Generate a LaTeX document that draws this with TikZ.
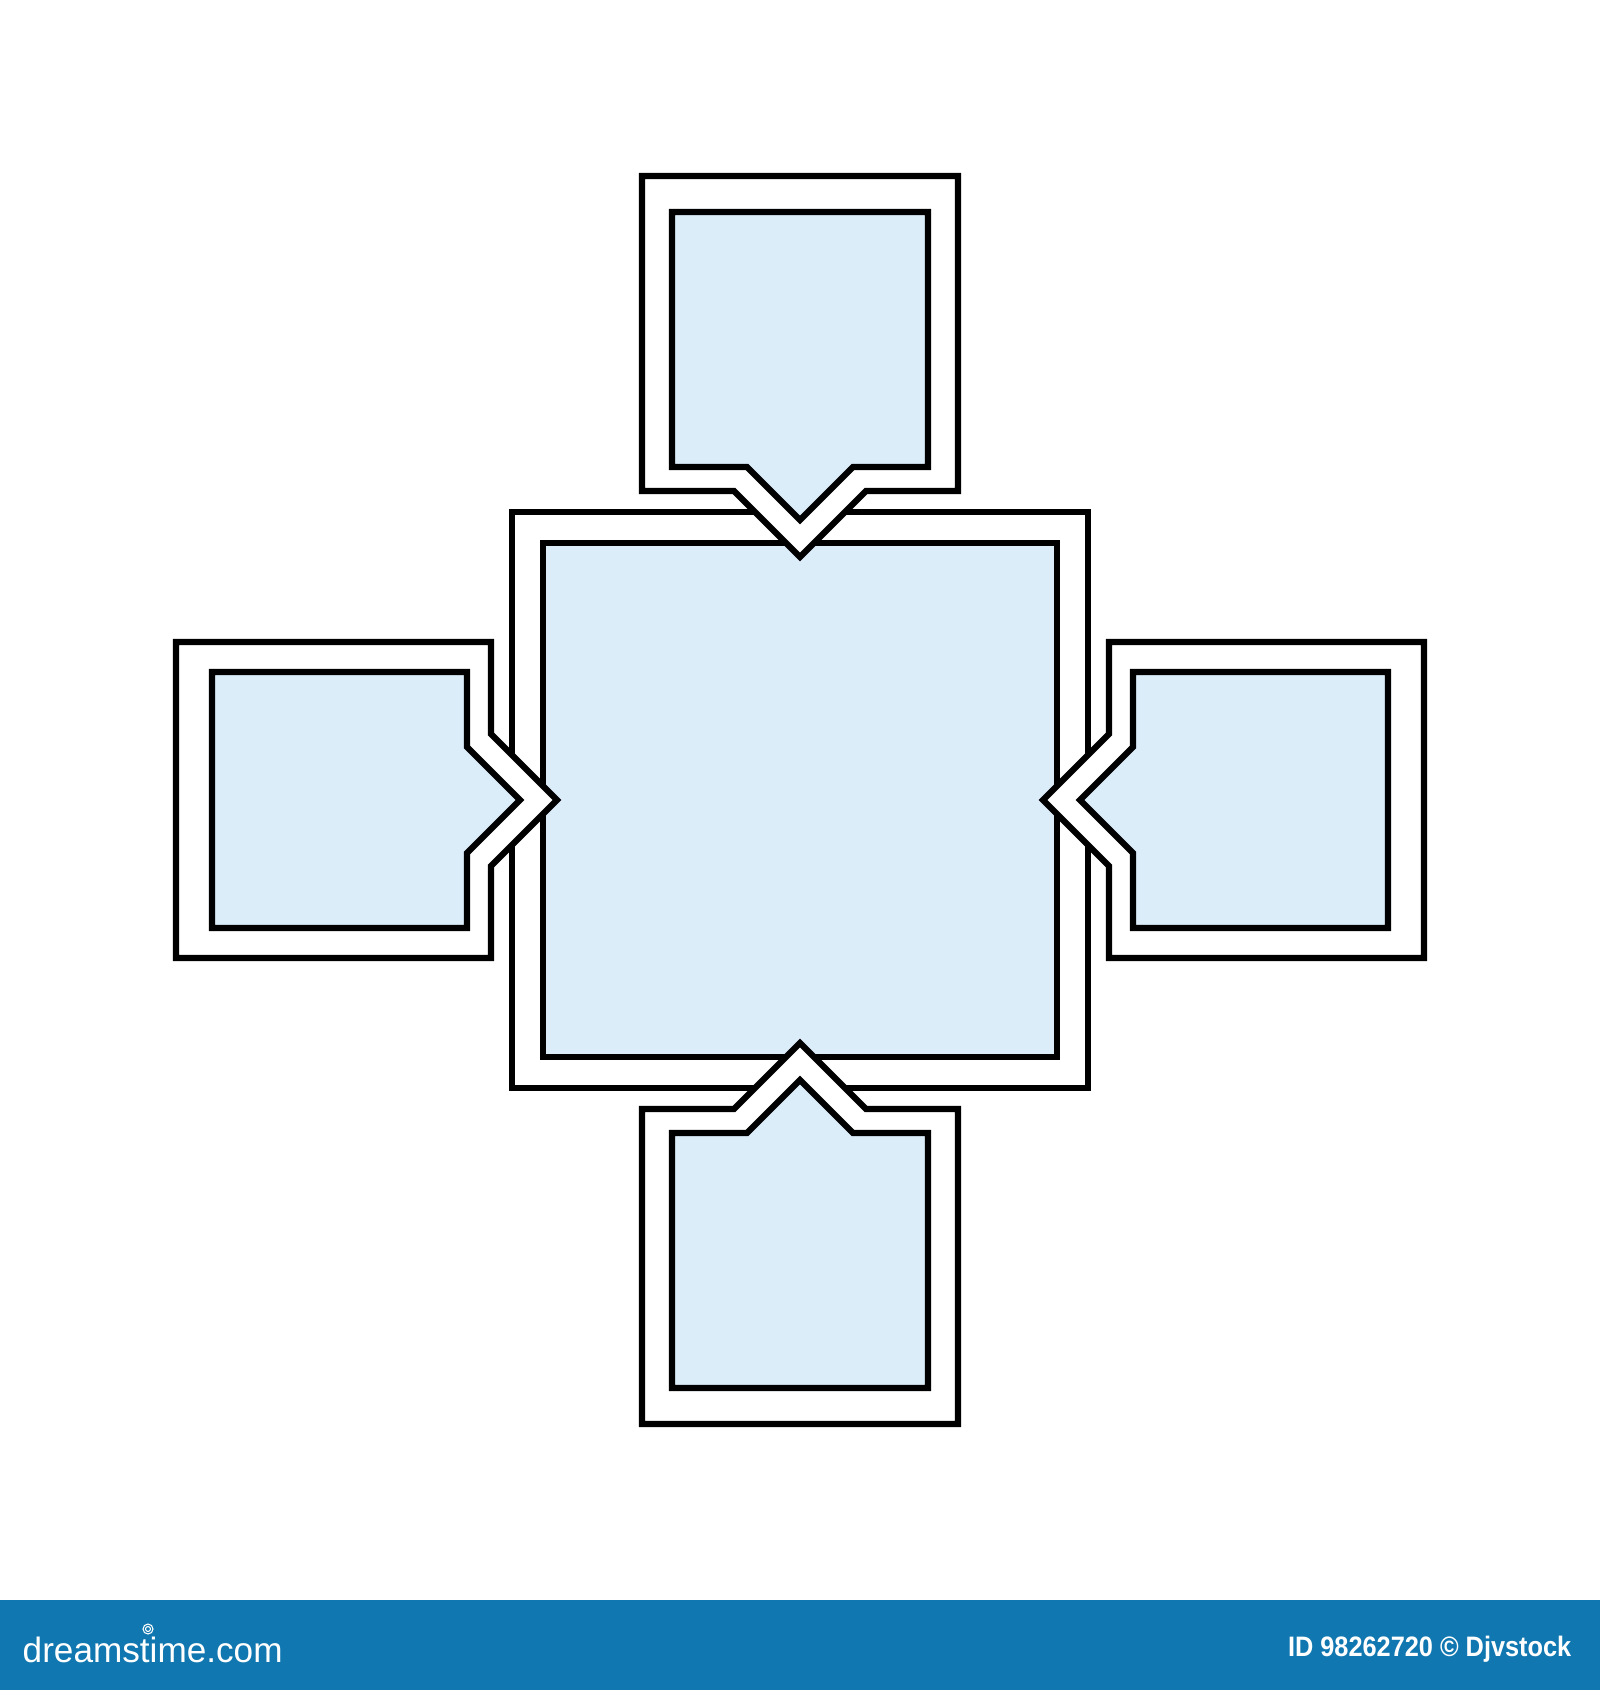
\documentclass[tikz,border=0pt]{standalone}
\usepackage{fontspec}
\setmainfont{Liberation Sans}
\definecolor{paleblue}{RGB}{220,237,250}
\definecolor{bannerblue}{RGB}{16,119,176}
\tikzset{
  frame/.style={draw=black, fill=white, line width=0.062cm, line join=miter},
  panel/.style={draw=black, fill=paleblue, line width=0.062cm, line join=miter},
}
\begin{document}
\begin{tikzpicture}[x=0.01cm, y=-0.01cm]
\useasboundingbox (0,0) rectangle (1600,1690);
\fill[white] (0,0) rectangle (1600,1690);
% central box
\draw[frame] (512,512) rectangle (1088,1088);
\draw[panel] (543,543) rectangle (1057,1057);
% four satellite boxes (same shape rotated about the centre)
\foreach \ang in {0,90,180,270}{
  \begin{scope}[rotate around={\ang:(800,800)}]
    \draw[frame] (642,176) -- (958,176) -- (958,491) -- (866,491) -- (800,557)
                 -- (734,491) -- (642,491) -- cycle;
    \draw[panel] (672,212) -- (928,212) -- (928,467) -- (853,467) -- (800,520)
                 -- (747,467) -- (672,467) -- cycle;
  \end{scope}
}
% banner
\fill[bannerblue] (0,1600) rectangle (1600,1690);
\node[anchor=base west, inner sep=0pt, text=white, font=\fontsize{10pt}{12pt}\selectfont] (logo) at (22,1662) {dreamstime.com};
\draw[white, line width=0.3pt] (148,1629) circle (5) (148,1629) circle (2.5);
\node[anchor=base east, inner sep=0pt, text=white] (credit) at (1572,1656)
  {\scalebox{0.9}[1]{\fontsize{8pt}{10pt}\selectfont\bfseries ID 98262720 © Djvstock}};
\end{tikzpicture}
\end{document}
